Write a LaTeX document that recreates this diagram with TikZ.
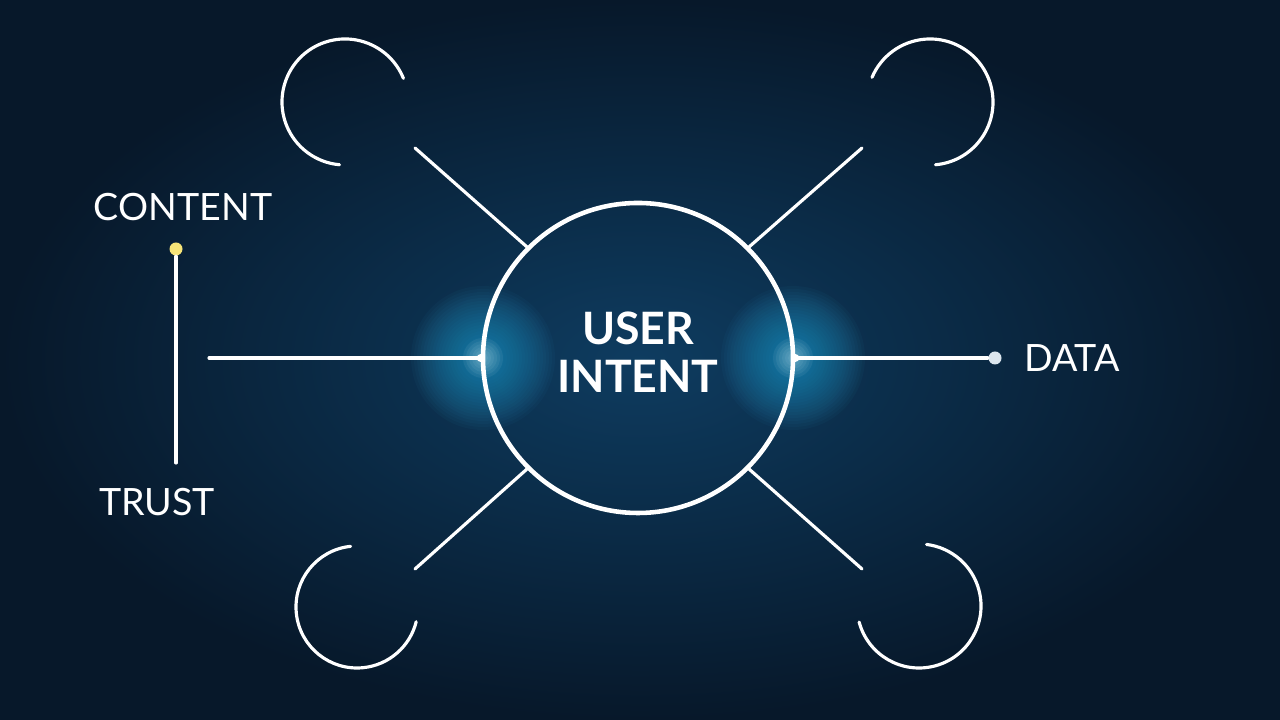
\documentclass[tikz,border=0pt]{standalone}
\usepackage{fontspec}
\setmainfont{Lato}
\definecolor{bgin}{RGB}{14,60,96}
\definecolor{bgout}{RGB}{7,24,42}
\definecolor{glowblue}{RGB}{40,165,215}
\definecolor{dotyellow}{RGB}{246,228,120}
\definecolor{dotgrey}{RGB}{220,230,238}
\tikzset{
  wire/.style={white, line width=0.9pt, line cap=round},
  tagtext/.style={text=white, inner sep=0pt, font=\fontsize{10.7}{12}\selectfont},
  enddot/.style={circle, inner sep=0pt, minimum size=0.13cm},
}
\begin{document}
\begin{tikzpicture}
    \useasboundingbox (0,0) rectangle (12.8,7.2);
    % Background
    \shade[inner color=bgin, outer color=bgout] (0,0) rectangle (12.8,7.2);

    % Glow at the two joints
    \foreach \gx in {4.83,7.93}{
        \foreach \r in {0.72,0.69,...,0.02}
            \fill[glowblue, opacity=0.045] (\gx,3.62) circle (\r);
        \foreach \r in {0.2,0.17,...,0.02}
            \fill[white, opacity=0.06] (\gx,3.62) circle (\r);
    }

    % Centre circle
    \node[circle, draw=white, line width=1.3pt, minimum size=3.1cm, inner sep=0pt] (intent) at (6.38,3.62) {};
    \node[text=white, align=center, font=\bfseries\fontsize{12.7}{13.7}\selectfont] (intenttext) at (6.38,3.68) {USER\\INTENT};

    % Spokes
    \coordinate (tl) at (4.15,5.72);
    \coordinate (tr) at (8.62,5.72);
    \coordinate (bl) at (4.15,1.51);
    \coordinate (br) at (8.62,1.51);
    \draw[wire] (tl) -- (intent.135);
    \draw[wire] (tr) -- (intent.45);
    \draw[wire] (bl) -- (intent.225);
    \draw[wire] (br) -- (intent.-45);

    % Open rings
    \draw[wire] (3.45,6.18) ++(22:0.63) arc[start angle=22, end angle=265, radius=0.63];
    \draw[wire] (9.30,6.18) ++(-85:0.63) arc[start angle=-85, end angle=157, radius=0.63];
    \draw[wire] (3.57,1.13) ++(96:0.61) arc[start angle=96, end angle=346, radius=0.61];
    \draw[wire] (9.19,1.14) ++(195:0.62) arc[start angle=195, end angle=443, radius=0.62];

    % Left side
    \node[tagtext] (content) at (1.83,5.13) {CONTENT};
    \node[enddot, fill=dotyellow] (cdot) at (1.76,4.71) {};
    \coordinate (tbot) at (1.76,2.57);
    \draw[wire] (cdot) -- (tbot);
    \node[tagtext] (trust) at (1.57,2.18) {TRUST};
    \coordinate (hstart) at (2.09,3.62);
    \draw[wire] (hstart) -- (intent.west);

    % Right side
    \node[enddot, fill=dotgrey] (ddot) at (9.95,3.62) {};
    \draw[wire] (intent.east) -- (ddot);
    \node[tagtext] (data) at (10.72,3.62) {DATA};

    % Joint points
    \foreach \j in {west,east}{
        \fill[white] (intent.\j) circle (0.04);
    }
\end{tikzpicture}
\end{document}
